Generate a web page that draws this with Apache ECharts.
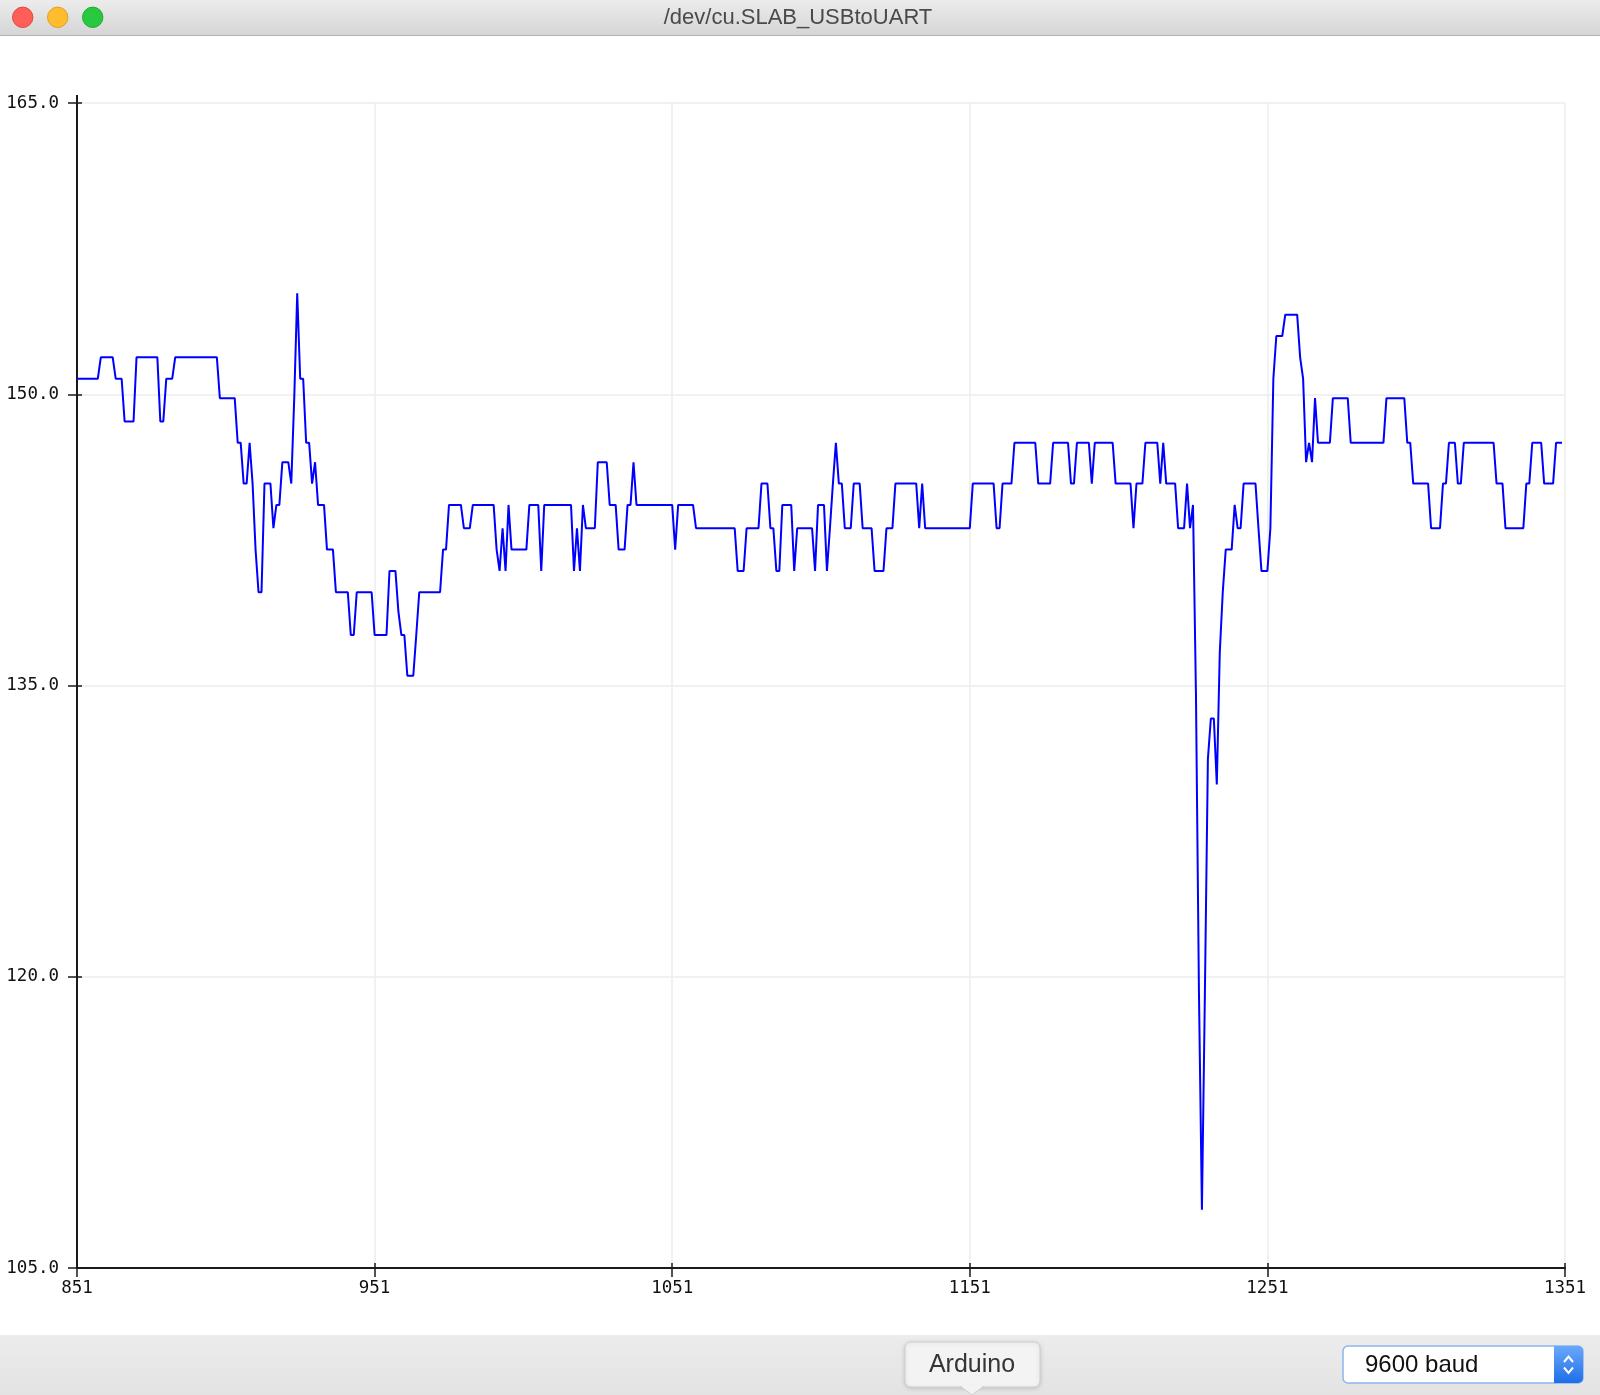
<!DOCTYPE html>
<html>
<head>
<meta charset="utf-8">
<title>/dev/cu.SLAB_USBtoUART</title>
<script src="https://cdn.jsdelivr.net/npm/echarts@6/dist/echarts.min.js"></script>
<style>
html,body{margin:0;padding:0;background:#fff;}
#plot{width:1600px;height:1395px;}
</style>
</head>
<body>
<div id="plot"></div>
<script>
var portName = '/dev/cu.SLAB_USBtoUART';
var boardLabel = 'Arduino';
var baudLabel = '9600 baud';

// serial plotter window (sample numbers)
var xFirst = 851;
var xLast = 1351;
var xStep = 100;

var yTicks = [105, 120, 135, 150, 165];

// one reading per sample, 851 .. 1350
var readings = [
  150.8,150.8,150.8,150.8,150.8,150.8,150.8,150.8,151.9,151.9,
  151.9,151.9,151.9,150.8,150.8,150.8,148.6,148.6,148.6,148.6,
  151.9,151.9,151.9,151.9,151.9,151.9,151.9,151.9,148.6,148.6,
  150.8,150.8,150.8,151.9,151.9,151.9,151.9,151.9,151.9,151.9,
  151.9,151.9,151.9,151.9,151.9,151.9,151.9,151.9,149.8,149.8,
  149.8,149.8,149.8,149.8,147.5,147.5,145.4,145.4,147.5,145.4,
  142.0,139.8,139.8,145.4,145.4,145.4,143.1,144.3,144.3,146.5,
  146.5,146.5,145.4,149.8,155.2,150.8,150.8,147.5,147.5,145.4,
  146.5,144.3,144.3,144.3,142.0,142.0,142.0,139.8,139.8,139.8,
  139.8,139.8,137.6,137.6,139.8,139.8,139.8,139.8,139.8,139.8,
  137.6,137.6,137.6,137.6,137.6,140.9,140.9,140.9,138.8,137.6,
  137.6,135.5,135.5,135.5,137.6,139.8,139.8,139.8,139.8,139.8,
  139.8,139.8,139.8,142.0,142.0,144.3,144.3,144.3,144.3,144.3,
  143.1,143.1,143.1,144.3,144.3,144.3,144.3,144.3,144.3,144.3,
  144.3,142.0,140.9,143.1,140.9,144.3,142.0,142.0,142.0,142.0,
  142.0,142.0,144.3,144.3,144.3,144.3,140.9,144.3,144.3,144.3,
  144.3,144.3,144.3,144.3,144.3,144.3,144.3,140.9,143.1,140.9,
  144.3,143.1,143.1,143.1,143.1,146.5,146.5,146.5,146.5,144.3,
  144.3,144.3,142.0,142.0,142.0,144.3,144.3,146.5,144.3,144.3,
  144.3,144.3,144.3,144.3,144.3,144.3,144.3,144.3,144.3,144.3,
  144.3,142.0,144.3,144.3,144.3,144.3,144.3,144.3,143.1,143.1,
  143.1,143.1,143.1,143.1,143.1,143.1,143.1,143.1,143.1,143.1,
  143.1,143.1,140.9,140.9,140.9,143.1,143.1,143.1,143.1,143.1,
  145.4,145.4,145.4,143.1,143.1,140.9,140.9,144.3,144.3,144.3,
  144.3,140.9,143.1,143.1,143.1,143.1,143.1,143.1,140.9,144.3,
  144.3,144.3,140.9,143.1,145.4,147.5,145.4,145.4,143.1,143.1,
  143.1,145.4,145.4,145.4,143.1,143.1,143.1,143.1,140.9,140.9,
  140.9,140.9,143.1,143.1,143.1,145.4,145.4,145.4,145.4,145.4,
  145.4,145.4,145.4,143.1,145.4,143.1,143.1,143.1,143.1,143.1,
  143.1,143.1,143.1,143.1,143.1,143.1,143.1,143.1,143.1,143.1,
  143.1,145.4,145.4,145.4,145.4,145.4,145.4,145.4,145.4,143.1,
  143.1,145.4,145.4,145.4,145.4,147.5,147.5,147.5,147.5,147.5,
  147.5,147.5,147.5,145.4,145.4,145.4,145.4,145.4,147.5,147.5,
  147.5,147.5,147.5,147.5,145.4,145.4,147.5,147.5,147.5,147.5,
  147.5,145.4,147.5,147.5,147.5,147.5,147.5,147.5,147.5,145.4,
  145.4,145.4,145.4,145.4,145.4,143.1,145.4,145.4,145.4,147.5,
  147.5,147.5,147.5,147.5,145.4,147.5,145.4,145.4,145.4,145.4,
  143.1,143.1,143.1,145.4,143.1,144.3,134.5,119.2,108.0,119.2,
  131.2,133.3,133.3,129.9,136.7,139.8,142.0,142.0,142.0,144.3,
  143.1,143.1,145.4,145.4,145.4,145.4,145.4,143.1,140.9,140.9,
  140.9,143.1,150.8,153.0,153.0,153.0,154.1,154.1,154.1,154.1,
  154.1,151.9,150.8,146.5,147.5,146.5,149.8,147.5,147.5,147.5,
  147.5,147.5,149.8,149.8,149.8,149.8,149.8,149.8,147.5,147.5,
  147.5,147.5,147.5,147.5,147.5,147.5,147.5,147.5,147.5,147.5,
  149.8,149.8,149.8,149.8,149.8,149.8,149.8,147.5,147.5,145.4,
  145.4,145.4,145.4,145.4,145.4,143.1,143.1,143.1,143.1,145.4,
  145.4,147.5,147.5,147.5,145.4,145.4,147.5,147.5,147.5,147.5,
  147.5,147.5,147.5,147.5,147.5,147.5,147.5,145.4,145.4,145.4,
  143.1,143.1,143.1,143.1,143.1,143.1,143.1,145.4,145.4,147.5,
  147.5,147.5,147.5,145.4,145.4,145.4,145.4,147.5,147.5,147.5
];

var xCats = [];
for (var s = xFirst; s <= xLast; s++) xCats.push(String(s));

var axisColor = '#1a1a1a';
var gridColor = '#ececec';
var monoFont = 'DejaVu Sans Mono';
var uiFont = '"Helvetica Neue", "Liberation Sans", Arial, sans-serif';

var chart = echarts.init(document.getElementById('plot'), null, {renderer: 'canvas'});

var option = {
  backgroundColor: '#ffffff',
  animation: false,
  grid: {left: 77, right: 35, top: 103, bottom: 127, containLabel: false},
  xAxis: [
    {
      type: 'category',
      data: xCats,
      boundaryGap: false,
      axisLine: {show: true, lineStyle: {color: axisColor, width: 2}},
      axisTick: {show: true, interval: xStep - 1, length: 9, lineStyle: {color: axisColor, width: 1.5}},
      axisLabel: {interval: xStep - 1, margin: 11, fontFamily: monoFont, fontSize: 17.5, color: '#111'},
      splitLine: {show: true, interval: xStep - 1, lineStyle: {color: gridColor, width: 1.5}}
    },
    {
      // inner half of the crossing ticks
      type: 'category',
      data: xCats,
      boundaryGap: false,
      position: 'bottom',
      axisLine: {show: false},
      axisTick: {show: true, inside: true, interval: xStep - 1, length: 5, lineStyle: {color: axisColor, width: 1.5}},
      axisLabel: {show: false},
      splitLine: {show: false}
    }
  ],
  yAxis: [
    {
      type: 'value',
      min: yTicks[0],
      max: yTicks[yTicks.length - 1],
      interval: yTicks[1] - yTicks[0],
      axisLine: {show: true, lineStyle: {color: axisColor, width: 2}},
      axisTick: {show: true, length: 9, lineStyle: {color: axisColor, width: 1.5}},
      axisLabel: {
        margin: 18, fontFamily: monoFont, fontSize: 17.5, color: '#111',
        formatter: function (v) { return v.toFixed(1); }
      },
      splitLine: {show: true, lineStyle: {color: gridColor, width: 1.5}}
    },
    {
      type: 'value',
      position: 'left',
      min: yTicks[0],
      max: yTicks[yTicks.length - 1],
      interval: yTicks[1] - yTicks[0],
      axisLine: {show: false},
      axisTick: {show: true, inside: true, length: 5, lineStyle: {color: axisColor, width: 1.5}},
      axisLabel: {show: false},
      splitLine: {show: false}
    }
  ],
  series: [{
    type: 'line',
    xAxisIndex: 0,
    yAxisIndex: 0,
    data: readings,
    showSymbol: false,
    symbol: 'none',
    lineStyle: {color: '#0000ff', width: 2},
    z: 5
  }],
  graphic: [
    // window title bar
    {
      type: 'rect', shape: {x: 0, y: 0, width: 1600, height: 35},
      style: {fill: new echarts.graphic.LinearGradient(0, 0, 0, 1, [
        {offset: 0, color: '#ececec'}, {offset: 1, color: '#d5d5d5'}])}
    },
    {type: 'line', shape: {x1: 0, y1: 35.5, x2: 1600, y2: 35.5}, style: {stroke: '#b3b3b3', lineWidth: 1}},
    {type: 'circle', shape: {cx: 22.7, cy: 17.3, r: 10.2}, style: {fill: '#fe5f57', stroke: '#e2463f', lineWidth: 1}},
    {type: 'circle', shape: {cx: 57.7, cy: 17.3, r: 10.2}, style: {fill: '#febc2e', stroke: '#dfa023', lineWidth: 1}},
    {type: 'circle', shape: {cx: 92.7, cy: 17.3, r: 10.2}, style: {fill: '#28c840', stroke: '#1dad2b', lineWidth: 1}},
    {
      type: 'text', x: 798, y: 18,
      style: {text: portName, fill: '#4a4a4a', font: '22px ' + uiFont, align: 'center', verticalAlign: 'middle'}
    },
    // y axis runs a little past the top tick
    {type: 'line', shape: {x1: 77, y1: 95, x2: 77, y2: 104}, style: {stroke: axisColor, lineWidth: 2}},
    // bottom status bar
    {
      type: 'rect', shape: {x: 0, y: 1335, width: 1600, height: 60},
      style: {fill: new echarts.graphic.LinearGradient(0, 0, 0, 1, [
        {offset: 0, color: '#ececec'}, {offset: 1, color: '#e3e3e3'}])}
    },
    {
      type: 'rect', shape: {x: 905, y: 1342, width: 135, height: 45, r: 6},
      style: {fill: '#f3f3f3', stroke: '#cfcfcf', lineWidth: 1, shadowBlur: 4, shadowColor: 'rgba(0,0,0,0.15)', shadowOffsetY: 1}
    },
    {
      type: 'polygon', shape: {points: [[961, 1386.5], [983, 1386.5], [972, 1395]]},
      style: {fill: '#f3f3f3', stroke: '#cfcfcf', lineWidth: 1}
    },
    {type: 'line', shape: {x1: 962, y1: 1386.5, x2: 982, y2: 1386.5}, style: {stroke: '#f3f3f3', lineWidth: 2}},
    {
      type: 'text', x: 972, y: 1365,
      style: {text: boardLabel, fill: '#353535', font: '25px ' + uiFont, align: 'center', verticalAlign: 'middle'}
    },
    {
      type: 'rect', shape: {x: 1343, y: 1346, width: 240, height: 37, r: 5},
      style: {fill: '#ffffff', stroke: '#8db5ef', lineWidth: 1.5}
    },
    {
      type: 'rect', shape: {x: 1554, y: 1346, width: 29, height: 37, r: [0, 5, 5, 0]},
      style: {fill: new echarts.graphic.LinearGradient(0, 0, 0, 1, [
        {offset: 0, color: '#6aa8fb'}, {offset: 1, color: '#1f6ee8'}])}
    },
    {type: 'polyline', shape: {points: [[1564, 1362], [1568.5, 1356.5], [1573, 1362]]}, style: {stroke: '#fff', lineWidth: 2, fill: null}},
    {type: 'polyline', shape: {points: [[1564, 1367.5], [1568.5, 1373], [1573, 1367.5]]}, style: {stroke: '#fff', lineWidth: 2, fill: null}},
    {
      type: 'text', x: 1365, y: 1365,
      style: {text: baudLabel, fill: '#111', font: '24px ' + uiFont, align: 'left', verticalAlign: 'middle'}
    }
  ]
};

chart.setOption(option);
</script>
</body>
</html>
